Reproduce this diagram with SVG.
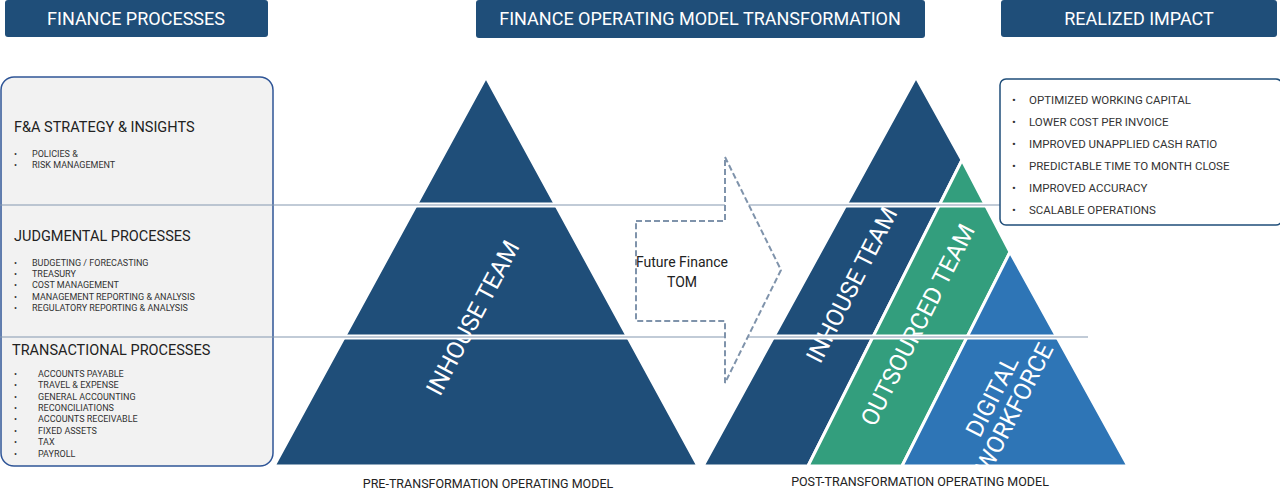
<svg xmlns="http://www.w3.org/2000/svg" width="1280" height="500" viewBox="0 0 1280 500">
<style>
text{font-family:Roboto,"Liberation Sans",sans-serif}
.hdr{fill:#1f4e79}
.ht{fill:#fff;font-size:18px;text-anchor:middle}
.sec{fill:#222;font-size:14.5px}
.it{fill:#333;font-size:9px}
.imp{fill:#333;font-size:11.5px}
.band{stroke:#fff;stroke-width:3;stroke-linejoin:miter}
.wt{fill:#fff;font-size:24px;text-anchor:middle}
.gap{stroke:#fff;stroke-width:5}
.hl{stroke:#8497b0;stroke-width:1.2}
.cap{fill:#222;font-size:12.5px;text-anchor:middle}
</style>
<g id="headers">
<rect class="hdr" x="5" y="0" width="263" height="37" rx="3"/><text class="ht" x="136" y="25">FINANCE PROCESSES</text>
<rect class="hdr" x="476" y="0" width="449" height="38" rx="3"/><text class="ht" x="700" y="25">FINANCE OPERATING MODEL TRANSFORMATION</text>
<rect class="hdr" x="1001" y="0" width="276" height="37" rx="3"/><text class="ht" x="1139" y="25">REALIZED IMPACT</text>
</g>
<g id="processes">
<rect x="1" y="77" width="272" height="389" rx="13" fill="#f2f2f2" stroke="#2f5597" stroke-width="1.5"/>
<text class="sec" x="14" y="132">F&amp;A STRATEGY &amp; INSIGHTS</text>
<g class="it"><text x="14" y="157">•</text><text x="32" y="157">POLICIES &amp;</text><text x="14" y="168">•</text><text x="32" y="168">RISK MANAGEMENT</text></g>
<text class="sec" x="14" y="241">JUDGMENTAL PROCESSES</text>
<g class="it">
<text x="14" y="266">•</text><text x="32" y="266">BUDGETING / FORECASTING</text>
<text x="14" y="277">•</text><text x="32" y="277">TREASURY</text>
<text x="14" y="288">•</text><text x="32" y="288">COST MANAGEMENT</text>
<text x="14" y="300">•</text><text x="32" y="300">MANAGEMENT REPORTING &amp; ANALYSIS</text>
<text x="14" y="311">•</text><text x="32" y="311">REGULATORY REPORTING &amp; ANALYSIS</text>
</g>
<text class="sec" x="12" y="355">TRANSACTIONAL PROCESSES</text>
<g class="it">
<text x="14" y="377">•</text><text x="38" y="377">ACCOUNTS PAYABLE</text>
<text x="14" y="388">•</text><text x="38" y="388">TRAVEL &amp; EXPENSE</text>
<text x="14" y="400">•</text><text x="38" y="400">GENERAL ACCOUNTING</text>
<text x="14" y="411">•</text><text x="38" y="411">RECONCILIATIONS</text>
<text x="14" y="422">•</text><text x="38" y="422">ACCOUNTS RECEIVABLE</text>
<text x="14" y="434">•</text><text x="38" y="434">FIXED ASSETS</text>
<text x="14" y="445">•</text><text x="38" y="445">TAX</text>
<text x="14" y="457">•</text><text x="38" y="457">PAYROLL</text>
</g>
</g>
<g id="pre-pyramid">
<polygon class="band" fill="#1f4e79" points="486,77 274,466 698,466"/>
<line class="gap" x1="330" y1="205" x2="640" y2="205"/>
<line class="gap" x1="300" y1="337" x2="670" y2="337"/>
<text class="wt" transform="translate(473,318) rotate(-62)" x="0" y="8">INHOUSE TEAM</text>
<text class="cap" x="488" y="488">PRE-TRANSFORMATION OPERATING MODEL</text>
</g>
<g id="post-pyramid">
<polygon class="band" fill="#1f4e79" points="916,77 962,160 808,466 703,466"/>
<polygon class="band" fill="#339e7d" points="962,160 1010,252 902,466 808,466"/>
<polygon class="band" fill="#2e75b6" points="1010,252 1128,466 902,466"/>
<line class="gap" x1="830" y1="205" x2="990" y2="205"/>
<line class="gap" x1="760" y1="337" x2="1080" y2="337"/>
<text class="wt" transform="translate(852,285) rotate(-63)" x="0" y="8">INHOUSE TEAM</text>
<text class="wt" transform="translate(918,325) rotate(-63)" x="0" y="8">OUTSOURCED TEAM</text>
<text class="wt" transform="translate(1003,402) rotate(-63)" x="0" y="-4">DIGITAL</text>
<text class="wt" transform="translate(1003,402) rotate(-63)" x="0" y="21">WORKFORCE</text>
<text class="cap" x="920" y="486">POST-TRANSFORMATION OPERATING MODEL</text>
</g>
<g id="connectors">
<line class="hl" x1="0" y1="205" x2="1000" y2="205"/>
<line class="hl" x1="0" y1="337" x2="1088" y2="337"/>
</g>
<g id="future-tom">
<polygon points="636,221 725,221 725,157 781,270 725,383 725,321 636,321" fill="#fff" stroke="#7f93ab" stroke-width="2" stroke-dasharray="6,3"/>
<text x="682" y="267" font-size="14" text-anchor="middle" fill="#222" font-family="'Open Sans',sans-serif">Future Finance</text>
<text x="682" y="287" font-size="14" text-anchor="middle" fill="#222" font-family="'Open Sans',sans-serif">TOM</text>
</g>
<g id="impact">
<rect x="1000" y="79" width="282" height="146" rx="6" fill="#fff" stroke="#1f4e79" stroke-width="1.5"/>
<g class="imp">
<text x="1012" y="104">•</text><text x="1029" y="104">OPTIMIZED WORKING CAPITAL</text>
<text x="1012" y="126">•</text><text x="1029" y="126">LOWER COST PER INVOICE</text>
<text x="1012" y="148">•</text><text x="1029" y="148">IMPROVED UNAPPLIED CASH RATIO</text>
<text x="1012" y="170">•</text><text x="1029" y="170">PREDICTABLE TIME TO MONTH CLOSE</text>
<text x="1012" y="192">•</text><text x="1029" y="192">IMPROVED ACCURACY</text>
<text x="1012" y="214">•</text><text x="1029" y="214">SCALABLE OPERATIONS</text>
</g>
</g>
</svg>
